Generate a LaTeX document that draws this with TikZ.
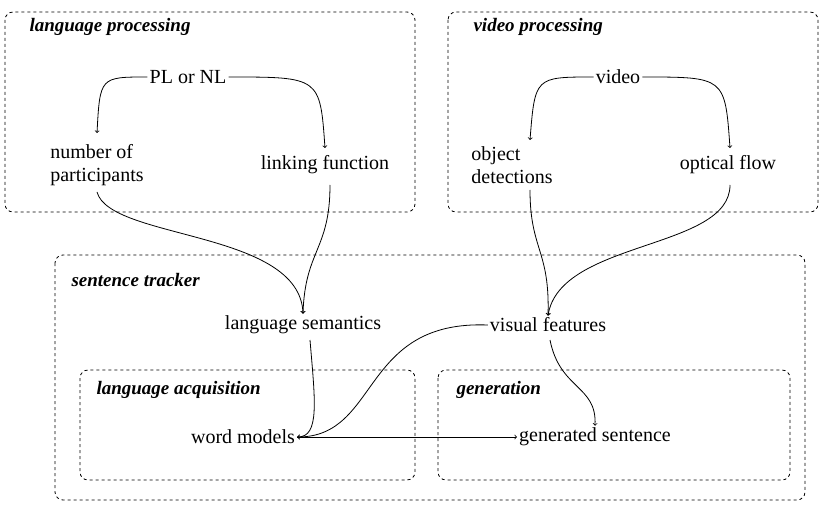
\documentclass[tikz,border=0pt]{standalone}
\usepackage{fontspec}
\setmainfont{Liberation Serif}
\begin{document}
\begin{tikzpicture}[x=1pt,y=-1pt,
  box/.style={draw,dashed,rounded corners=8pt,line width=0.8pt},
  ttl/.style={anchor=west,font=\fontsize{19}{23}\selectfont\bfseries\itshape},
  lbl/.style={font=\fontsize{20}{23}\selectfont,align=left,inner sep=2pt},
  arr/.style={->,line width=0.8pt}]
\useasboundingbox (0,0) rectangle (822,505);
\draw[box] (5,12) rectangle (415,212);
\draw[box] (448,12) rectangle (818,212);
\draw[box] (55,255) rectangle (805,500);
\draw[box] (80,370) rectangle (415,480);
\draw[box] (438,370) rectangle (790,480);
\node[ttl] (t1) at (26,27) {language processing};
\node[ttl] (t2) at (470,27) {video processing};
\node[ttl] (t3) at (68,280) {sentence tracker};
\node[ttl] (t4) at (93,390) {language acquisition};
\node[ttl] (t5) at (453,390) {generation};
\node[lbl] (pl) at (188,77) {PL or NL};
\node[lbl] (np) at (97,165) {number of\\participants};
\node[lbl] (lf) at (325,165) {linking function};
\node[lbl] (vid) at (618,77) {video};
\node[lbl] (od) at (512,165) {object\\detections};
\node[lbl] (of) at (728,165) {optical flow};
\node[lbl] (ls) at (303,325) {language semantics};
\node[lbl] (vf) at (548,325) {visual features};
\node[lbl] (wm) at (243,437) {word models};
\node[lbl] (gs) at (595,437) {generated sentence};
\draw[arr] (pl.west) .. controls (100,77) .. (97,133);
\draw[arr] (pl.east) .. controls (320,77) .. (325,148);
\draw[arr] (vid.west) .. controls (535,77) .. (530,140);
\draw[arr] (vid.east) .. controls (725,77) .. (730,148);
\draw[arr] (97,192) .. controls (110,240) and (300,230) .. (ls.north);
\draw[arr] (330,185) .. controls (330,250) and (305,250) .. (ls.north);
\draw[arr] (530,190) .. controls (530,250) and (550,250) .. (vf.north);
\draw[arr] (730,185) .. controls (730,250) and (560,240) .. (vf.north);
\draw[arr] (310,340) .. controls (315,400) and (320,437) .. (wm.east);
\draw[arr] (vf.west) .. controls (360,320) and (380,437) .. (wm.east);
\draw[arr] (wm.east) -- (gs.west);
\draw[arr] (550,340) .. controls (560,390) and (597,385) .. (gs.north);
\end{tikzpicture}
\end{document}
